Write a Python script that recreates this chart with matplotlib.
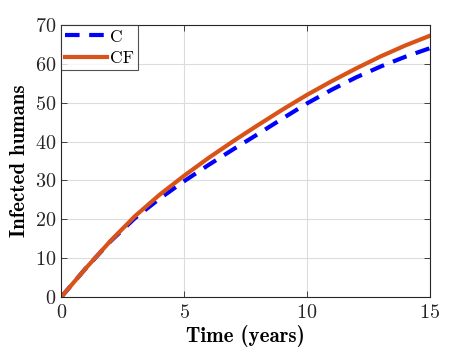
import matplotlib
matplotlib.use("Agg")
import matplotlib.pyplot as plt
import numpy as np

t = [0, 1, 2, 3, 4, 5, 6, 7, 8, 9, 10, 11, 12, 13, 14, 15]
C = [0, 7.4, 14.3, 20.3, 25.3, 29.8, 34.0, 38.0, 41.9, 45.9, 49.8, 53.3, 56.5, 59.3, 61.8, 64.0]
CF = [0, 7.4, 14.4, 20.8, 26.3, 31.2, 35.8, 40.1, 44.2, 48.2, 52.0, 55.5, 58.8, 61.9, 64.7, 67.2]
xticks = [0, 5, 10, 15]
yticks = [0, 10, 20, 30, 40, 50, 60, 70]

plt.rcParams['font.family'] = 'serif'
plt.rcParams['font.serif'] = ['cmr10', 'DejaVu Serif']
plt.rcParams['mathtext.fontset'] = 'cm'
plt.rcParams['axes.formatter.use_mathtext'] = True

fig = plt.figure(figsize=(4.74, 3.55), dpi=100)
ax = fig.add_axes([0.129, 0.163, 0.778, 0.767])

ax.plot(t, C, color=(0, 0, 1), linestyle=(0, (3.5, 2.3)), linewidth=3, label='C')
ax.plot(t, CF, color=(0.85, 0.325, 0.098), linestyle='-', linewidth=3, label='CF')

ax.set_xlim(0, 15)
ax.set_ylim(0, 70)
ax.set_xticks(xticks)
ax.set_yticks(yticks)
ax.grid(True, color='#dcdcdc', linewidth=0.8)
ax.tick_params(direction='in', top=True, right=True, labelsize=14.5, colors='#262626', length=4, width=0.6)
ax.tick_params(axis='x', pad=5)
for s in ax.spines.values():
    s.set_color('#262626')
    s.set_linewidth(0.8)

ax.set_xlabel('Time (years)', fontsize=15, fontweight='bold', fontname='cmb10', labelpad=2)
ax.set_ylabel('Infected humans', fontsize=15, fontweight='bold', fontname='cmb10', labelpad=4)

leg = ax.legend(loc='upper left', fontsize=12.5, frameon=True, fancybox=False,
                edgecolor='#262626', borderaxespad=0.0, handlelength=2.4,
                borderpad=0.25, labelspacing=0.35, handletextpad=0.15)
leg.get_frame().set_linewidth(0.8)

fig.savefig('out.png', dpi=100)
